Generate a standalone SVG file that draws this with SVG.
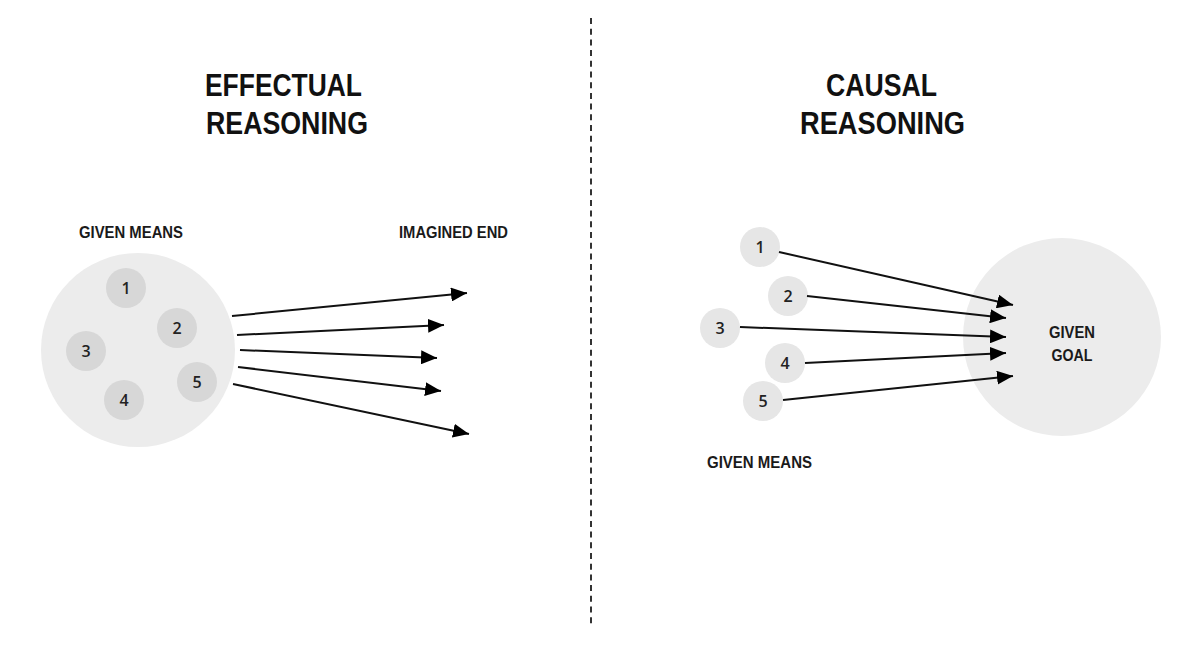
<svg xmlns="http://www.w3.org/2000/svg" width="1200" height="653" viewBox="0 0 1200 653">
  <defs>
    <marker id="ah" viewBox="0 0 16 14" refX="16" refY="7" markerWidth="16" markerHeight="14" markerUnits="userSpaceOnUse" orient="auto">
      <path d="M0,0 L16,7 L0,14 Z" fill="#000"/>
    </marker>
    <style>
      .title{font-family:"Liberation Sans",Arial,sans-serif;font-weight:bold;font-size:31px;fill:#111}
      .label{font-family:"Liberation Sans",Arial,sans-serif;font-weight:bold;font-size:17px;fill:#1a1a1a}
      .num{font-family:"Open Sans","Liberation Sans",Arial,sans-serif;font-weight:600;font-size:16px;fill:#222;text-anchor:middle}
      .big{fill:#ececec}
      .small{fill:#d7d7d7}
      .small2{fill:#e6e6e6}
      .conn line{stroke:#111;stroke-width:2;marker-end:url(#ah)}
    </style>
  </defs>
  <rect width="1200" height="653" fill="#fff"/>

  <g id="divider">
    <line x1="591" y1="18" x2="591" y2="627" stroke="#333" stroke-width="2" stroke-dasharray="6 4.7"/>
  </g>

  <g id="title-effectual">
    <text class="title" x="205" y="96" textLength="157" lengthAdjust="spacingAndGlyphs">EFFECTUAL</text>
    <text class="title" x="206" y="134" textLength="162" lengthAdjust="spacingAndGlyphs">REASONING</text>
  </g>
  <g id="title-causal">
    <text class="title" x="826" y="96" textLength="111" lengthAdjust="spacingAndGlyphs">CAUSAL</text>
    <text class="title" x="800" y="134" textLength="165" lengthAdjust="spacingAndGlyphs">REASONING</text>
  </g>

  <g id="label-given-means-left">
    <text class="label" x="79" y="238" textLength="104" lengthAdjust="spacingAndGlyphs">GIVEN MEANS</text>
  </g>
  <g id="label-imagined-end">
    <text class="label" x="399" y="238" textLength="109" lengthAdjust="spacingAndGlyphs">IMAGINED END</text>
  </g>
  <g id="label-given-means-right">
    <text class="label" x="707" y="468" textLength="105" lengthAdjust="spacingAndGlyphs">GIVEN MEANS</text>
  </g>

  <g id="means-pool">
    <circle class="big" cx="138" cy="350" r="97"/>
  </g>
  <g id="e-mean-1"><circle class="small" cx="126" cy="288" r="20"/><text class="num" x="126" y="294">1</text></g>
  <g id="e-mean-2"><circle class="small" cx="177" cy="328" r="20"/><text class="num" x="177" y="334">2</text></g>
  <g id="e-mean-3"><circle class="small" cx="86" cy="351" r="20"/><text class="num" x="86" y="357">3</text></g>
  <g id="e-mean-4"><circle class="small" cx="124" cy="400" r="20"/><text class="num" x="124" y="406">4</text></g>
  <g id="e-mean-5"><circle class="small" cx="197" cy="382" r="20"/><text class="num" x="197" y="388">5</text></g>

  <g id="given-goal">
    <circle class="big" cx="1062" cy="337" r="99"/>
    <text class="label" x="1072" y="338" text-anchor="middle" textLength="46" lengthAdjust="spacingAndGlyphs">GIVEN</text>
    <text class="label" x="1072" y="361" text-anchor="middle" textLength="41" lengthAdjust="spacingAndGlyphs">GOAL</text>
  </g>
  <g id="c-mean-1"><circle class="small2" cx="760" cy="247" r="20"/><text class="num" x="760" y="253">1</text></g>
  <g id="c-mean-2"><circle class="small2" cx="788" cy="296" r="20"/><text class="num" x="788" y="302">2</text></g>
  <g id="c-mean-3"><circle class="small2" cx="720" cy="328" r="20"/><text class="num" x="720" y="334">3</text></g>
  <g id="c-mean-4"><circle class="small2" cx="785" cy="363" r="20"/><text class="num" x="785" y="369">4</text></g>
  <g id="c-mean-5"><circle class="small2" cx="763" cy="401" r="20"/><text class="num" x="763" y="407">5</text></g>

  <g id="connectors" class="conn">
    <line x1="232" y1="316" x2="467" y2="293"/>
    <line x1="237" y1="335" x2="444" y2="325"/>
    <line x1="240" y1="350" x2="437" y2="358"/>
    <line x1="238" y1="367" x2="441" y2="391"/>
    <line x1="233" y1="384" x2="469" y2="434"/>

    <line x1="779" y1="252" x2="1013" y2="305"/>
    <line x1="807" y1="296" x2="1006" y2="318"/>
    <line x1="740" y1="327" x2="1006" y2="337"/>
    <line x1="805" y1="363" x2="1006" y2="353"/>
    <line x1="783" y1="400" x2="1013" y2="376"/>
  </g>
</svg>
